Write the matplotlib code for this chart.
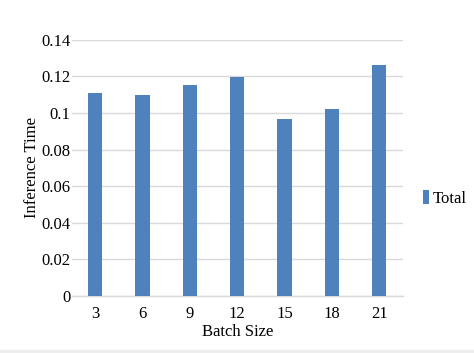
import matplotlib
matplotlib.use("Agg")
import matplotlib.pyplot as plt
from matplotlib.patches import Rectangle

categories = ["3", "6", "9", "12", "15", "18", "21"]
total = [0.111, 0.1098, 0.1152, 0.1199, 0.0966, 0.1023, 0.1260]
yticks = [0, 0.02, 0.04, 0.06, 0.08, 0.1, 0.12, 0.14]
ytick_labels = ["0", "0.02", "0.04", "0.06", "0.08", "0.1", "0.12", "0.14"]

plt.rcParams['font.family'] = 'serif'
plt.rcParams['font.serif'] = ['Liberation Serif', 'Times New Roman', 'DejaVu Serif']

fs = 12

fig = plt.figure(figsize=(4.74, 3.53), dpi=100)
ax = fig.add_axes([0.151, 0.1615, 0.699, 0.7255])

x = list(range(len(categories)))
ax.bar(x, total, width=0.3, color="#4F81BD", label="Total", zorder=3)

ax.set_xlim(-0.5, len(categories) - 0.5)
ax.set_ylim(0, 0.14)
ax.set_yticks(yticks)
ax.set_yticklabels(ytick_labels, fontsize=fs)
ax.set_xticks(x)
ax.set_xticklabels(categories, fontsize=fs)
ax.tick_params(axis='both', length=0)
ax.tick_params(axis='x', pad=7)
ax.tick_params(axis='y', pad=1)

ax.grid(axis='y', color="#D9D9D9", linewidth=1.0, zorder=0)
for s in ["left", "right", "top"]:
    ax.spines[s].set_visible(False)
ax.spines["bottom"].set_color("#D9D9D9")
ax.spines["bottom"].set_linewidth(1.0)

ax.set_xlabel("Batch Size", fontsize=fs, labelpad=2)
ax.set_ylabel("Inference Time", fontsize=fs, labelpad=1)

ax.legend(loc="center left", bbox_to_anchor=(1.015, 0.38), frameon=False,
          fontsize=fs, handlelength=0.35, handleheight=0.9, handletextpad=0.25)

fig.patches.append(Rectangle((0, 0), 1, 3/353, transform=fig.transFigure,
                             color="#EEEEEE", zorder=0))

fig.savefig("out.png", dpi=100)
